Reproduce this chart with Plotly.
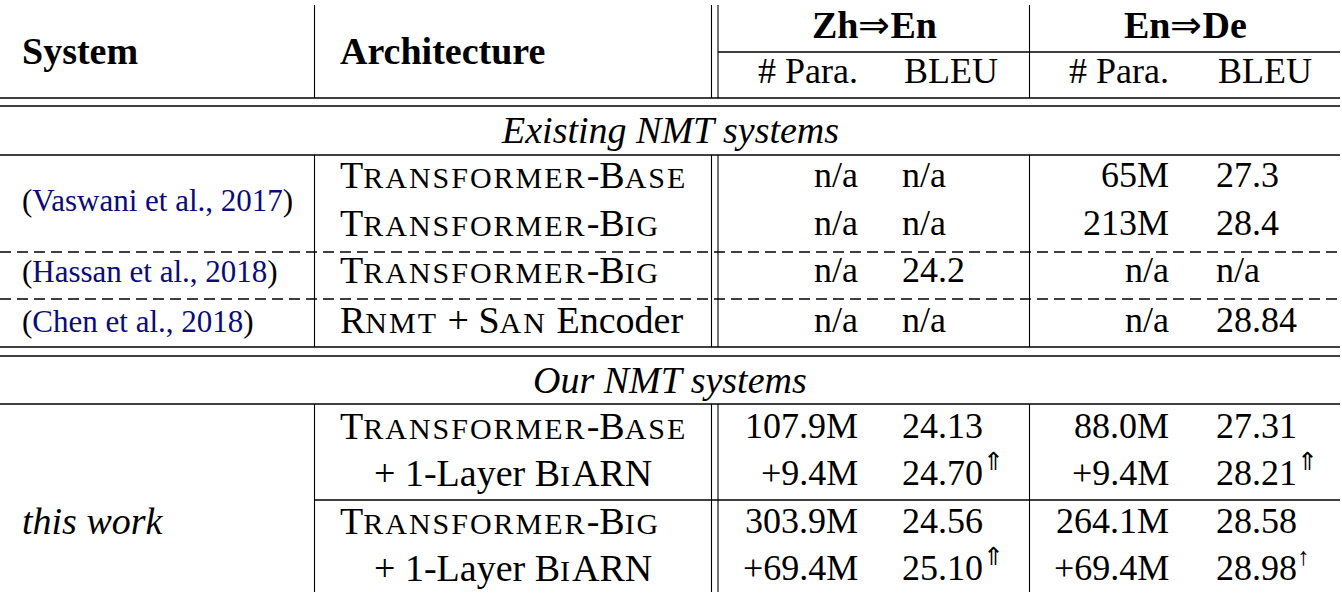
import plotly.graph_objects as go

# table content
col_headers = ["System", "Architecture"]
pair_headers = ["Zh⇒En", "En⇒De"]
sub_headers = ["# Para.", "BLEU"]
section_titles = ["Existing NMT systems", "Our NMT systems"]

cite_names = ["Vaswani et al., 2017", "Hassan et al., 2018", "Chen et al., 2018"]
our_system = "this work"

architectures = ["Transformer-Base", "Transformer-Big", "Transformer-Big",
                 "Rnmt + San Encoder",
                 "Transformer-Base", "+ 1-Layer BiARN",
                 "Transformer-Big", "+ 1-Layer BiARN"]
zh_para = ["n/a", "n/a", "n/a", "n/a", "107.9M", "+9.4M", "303.9M", "+69.4M"]
zh_bleu = ["n/a", "n/a", "24.2", "n/a", "24.13", "24.70", "24.56", "25.10"]
zh_mark = ["", "", "", "", "", "⇑", "", "⇑"]
en_para = ["65M", "213M", "n/a", "n/a", "88.0M", "+9.4M", "264.1M", "+69.4M"]
en_bleu = ["27.3", "28.4", "n/a", "28.84", "27.31", "28.21", "28.58", "28.98"]
en_mark = ["", "", "", "", "", "⇑", "", "↑"]

FONT = "Liberation Serif, Tinos, Times New Roman, serif"
FS = 36      # numbers
FA = 38      # architecture / titles
SC = 30      # small caps size
W, H = 1342, 596

# layout of the table (pixels)
row_base = [187, 235, 282, 332, 438, 485, 533, 580]
x_sys, x_arch, x_arch_ind = 20, 338, 372
x_zh_para, x_zh_bleu = 860, 900
x_en_para, x_en_bleu = 1171, 1214
x_right = 1340


def small_caps(s):
    # emulate \textsc: upper-case letters stay big, lower-case become small caps
    out = ""
    buf = ""
    for ch in s:
        if ch.islower():
            buf += ch.upper()
        else:
            if buf:
                out += "<span style='font-size:%dpx;letter-spacing:2px'>%s</span>" % (SC, buf)
                buf = ""
            out += ch
    if buf:
        out += "<span style='font-size:%dpx;letter-spacing:2px'>%s</span>" % (SC, buf)
    return out


def arch_text(a):
    if a.startswith("+ 1-Layer"):
        return "+ 1-Layer " + small_caps("Bi") + "ARN"
    if a.startswith("Rnmt"):
        return small_caps("Rnmt") + " + " + small_caps("San") + " Encoder"
    return small_caps(a)


fig = go.Figure()
ann = []


def txt(x, y, s, xa="left", size=FS, color="black", ya="middle"):
    ann.append(dict(x=x, y=y, text=s, xanchor=xa, yanchor=ya, showarrow=False,
                    font=dict(family=FONT, size=size, color=color), xref="x", yref="y"))


def cell(x, base, s, xa="left", size=FS):
    # anchor on the bottom of the text box so superscripts do not move the baseline
    txt(x, base + 0.216 * size + 2.5, s, xa=xa, size=size, ya="bottom")


# header
txt(x_sys, 51, "<b>%s</b>" % col_headers[0], size=FA)
txt(x_arch, 51, "<b>%s</b>" % col_headers[1], size=FA)
for cx, p in zip([874, 1185], pair_headers):
    a, b = p.split("⇒")
    txt(cx, 25, "<b>%s</b>⇒<b>%s</b>" % (a, b), xa="center", size=FA)
for xp, xb in [(x_zh_para, x_zh_bleu), (x_en_para, x_en_bleu)]:
    txt(xp, 71, sub_headers[0], xa="right")
    txt(xb + 2, 71, sub_headers[1])

txt(670, 130, "<i>%s</i>" % section_titles[0], xa="center", size=FA)
txt(670, 380, "<i>%s</i>" % section_titles[1], xa="center", size=FA)

# system column
cite_rows = [(row_base[0] + row_base[1]) / 2, row_base[2], row_base[3]]
for yb, name in zip(cite_rows, cite_names):
    auth, year = name.rsplit(", ", 1)
    cell(x_sys, yb, "(<span style='fill:#0b0b7a'>%s, %s</span>)" % (auth, year), size=31)
cell(x_sys, 533, "<i>%s</i>" % our_system, size=FA)

# body rows
for i, yb in enumerate(row_base):
    xa = x_arch_ind if architectures[i].startswith("+") else x_arch
    cell(xa, yb, arch_text(architectures[i]), size=FA)
    cell(x_zh_para, yb, zh_para[i], xa="right")
    s = zh_bleu[i] + ("<sup>%s</sup>" % zh_mark[i] if zh_mark[i] else "")
    cell(x_zh_bleu, yb, s)
    cell(x_en_para, yb, en_para[i], xa="right")
    s = en_bleu[i] + ("<sup>%s</sup>" % en_mark[i] if en_mark[i] else "")
    cell(x_en_bleu, yb, s)

# rules
shapes = []


def hline(y, x0=0, x1=x_right, dash="solid", w=1.4):
    shapes.append(dict(type="line", xref="x", yref="y", x0=x0, x1=x1, y0=y, y1=y,
                       line=dict(color="black", width=w, dash=dash)))


def vline(x, y0, y1, w=1.1):
    shapes.append(dict(type="line", xref="x", yref="y", x0=x, x1=x, y0=y0, y1=y1,
                       line=dict(color="black", width=w)))


hline(52, 718)
for y in [98, 106, 155, 347, 356, 404]:
    hline(y)
hline(252, dash="11px,6px")
hline(299, dash="11px,6px")
hline(500, 314.5)

for x in [314.5, 711.5, 718, 1029.5]:
    for y0, y1 in [(5, 98), (155, 347), (404, 592)]:
        vline(x, y0, y1)

fig.update_layout(
    width=W, height=H,
    margin=dict(l=0, r=0, t=0, b=0),
    paper_bgcolor="white", plot_bgcolor="white",
    xaxis=dict(range=[0, W], visible=False, fixedrange=True),
    yaxis=dict(range=[H, 0], visible=False, fixedrange=True),
    annotations=ann, shapes=shapes,
    showlegend=False,
)

fig.write_html("out.html", config={"displayModeBar": False},
               post_script="document.body.style.margin='0px';"
                           "document.body.style.overflow='hidden';")
